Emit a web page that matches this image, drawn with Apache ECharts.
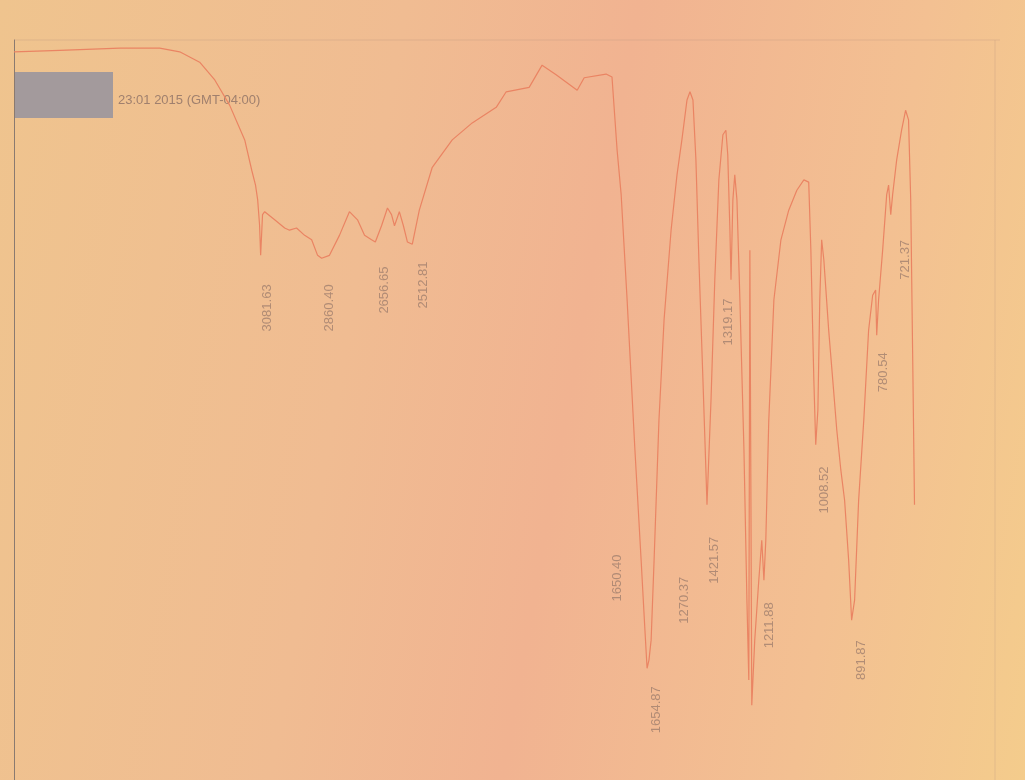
<!DOCTYPE html>
<html><head><meta charset="utf-8">
<script src="https://cdn.jsdelivr.net/npm/echarts@6/dist/echarts.min.js"></script>
<style>
html,body{margin:0;padding:0;}
body{width:1025px;height:780px;overflow:hidden;
 background:linear-gradient(100deg,#efc48e 0%,#f0bc92 35%,#f1b391 55%,#f3c092 80%,#f4cc8c 100%);}
#chart{width:1025px;height:780px;}
</style></head><body>
<div id="chart"></div>
<script>
// wavenumber (cm-1) and transmittance (%)
var wavenumbers = [4000,3830,3608,3460,3386,3312,3256,3201,3145,3119,3105,3097,3090,3086,3079,3071,3034,2997,2979,2953,2923,2897,2875,2860,2831,2794,2757,2727,2701,2675,2661,2638,2616,2601,2590,2572,2557,2542,2524,2498,2450,2376,2302,2213,2176,2091,2043,1991,1913,1887,1806,1784,1765,1750,1728,1699,1676,1662,1654,1647,1639,1628,1610,1591,1565,1543,1525,1506,1495,1484,1473,1462,1447,1436,1432,1417,1403,1388,1373,1362,1355,1347,1343,1336,1329,1321,1310,1295,1284,1277,1273,1266,1255,1240,1229,1221,1214,1203,1184,1158,1129,1099,1073,1055,1047,1036,1029,1021,1014,1007,999,981,966,951,936,922,907,896,885,870,851,833,818,807,803,796,781,766,759,751,744,729,711,696,685,677,670,663];
var transmittance = [98.4,98.6,98.9,98.9,98.4,97.0,94.6,91.2,86.5,82.4,80.4,78.4,75.0,70.9,76.4,76.8,75.7,74.6,74.3,74.6,73.6,73.0,70.9,70.5,70.9,73.6,76.8,75.7,73.6,73.0,72.7,74.9,77.3,76.4,74.9,76.8,74.9,72.7,72.4,77.0,82.8,86.5,88.8,90.9,93.0,93.6,96.6,95.3,93.2,94.9,95.4,95.0,85.1,79.1,64.9,44.6,29.7,20.3,15.1,16.2,18.9,29.7,48.6,62.2,74.3,81.8,86.5,91.9,93.0,91.9,83.8,70.3,54.1,41.9,37.2,51.4,67.6,81.1,87.2,87.8,84.5,74.3,67.6,78.4,81.8,78.4,64.9,44.6,24.3,13.5,71.6,10.1,18.9,27.0,32.4,27.0,32.4,48.6,64.9,73.0,77.0,79.7,81.1,80.8,71.6,54.1,45.3,50.0,64.9,73.0,70.3,60.8,54.1,47.3,41.9,37.8,29.7,21.6,24.3,37.8,48.6,60.8,65.5,66.2,60.1,64.9,71.6,79.1,80.4,76.4,79.1,83.8,87.8,90.5,89.2,78.4,58.1,37.2];
// peak labels and where they sit on the sheet
var peakLabels = ["3081.63","2860.40","2656.65","2512.81","1650.40","1654.87","1270.37","1421.57","1319.17","1211.88","1008.52","891.87","780.54","721.37"];
var labelWn = [3060,2831,2627,2483,1765,1621,1514,1403,1351,1199,996,859,777,696];
var labelT = [63.8,63.8,66.2,66.9,27.3,9.5,24.3,29.7,61.9,20.9,39.2,16.2,55.1,70.3];

var spec = [], marks = [];
for (var i = 0; i < wavenumbers.length; i++) spec.push([wavenumbers[i], transmittance[i]]);
for (var j = 0; j < peakLabels.length; j++) marks.push({value: [labelWn[j], labelT[j]], name: peakLabels[j]});

var chart = echarts.init(document.getElementById("chart"));
chart.setOption({
  backgroundColor: "transparent",
  animation: false,
  grid: {left: 14, right: 107, top: 40, bottom: 0},
  xAxis: {type: "value", min: 650, max: 4000, inverse: true,
    axisLine: {show: false}, axisTick: {show: false}, axisLabel: {show: false}, splitLine: {show: false}},
  yAxis: {type: "value", min: 0, max: 100,
    axisLine: {show: true, lineStyle: {color: "#8a7a70", width: 1}},
    axisTick: {show: false}, axisLabel: {show: false}, splitLine: {show: false}},
  graphic: [
    {type: "line", shape: {x1: 14, y1: 40, x2: 1000, y2: 40}, style: {stroke: "rgba(190,150,130,0.35)", lineWidth: 1}},
    {type: "line", shape: {x1: 995, y1: 40, x2: 995, y2: 780}, style: {stroke: "rgba(190,150,130,0.3)", lineWidth: 1}},
    {type: "rect", shape: {x: 15, y: 72, width: 98, height: 46}, style: {fill: "#a39a9c"}},
    {type: "text", x: 118, y: 94, style: {text: "23:01 2015 (GMT-04:00)", fill: "#a0806e",
      font: "13px 'Liberation Sans', Arial, sans-serif"}}
  ],
  series: [
    {type: "line", data: spec, symbol: "none",
      lineStyle: {color: "#ea8463", width: 1.2}},
    {type: "scatter", data: marks, symbolSize: 0,
      label: {show: true, formatter: "{b}", rotate: 90, position: "inside",
        color: "#a0806e", fontSize: 13, fontFamily: "'Liberation Sans', Arial, sans-serif"}}
  ]
});
</script>
</body></html>
